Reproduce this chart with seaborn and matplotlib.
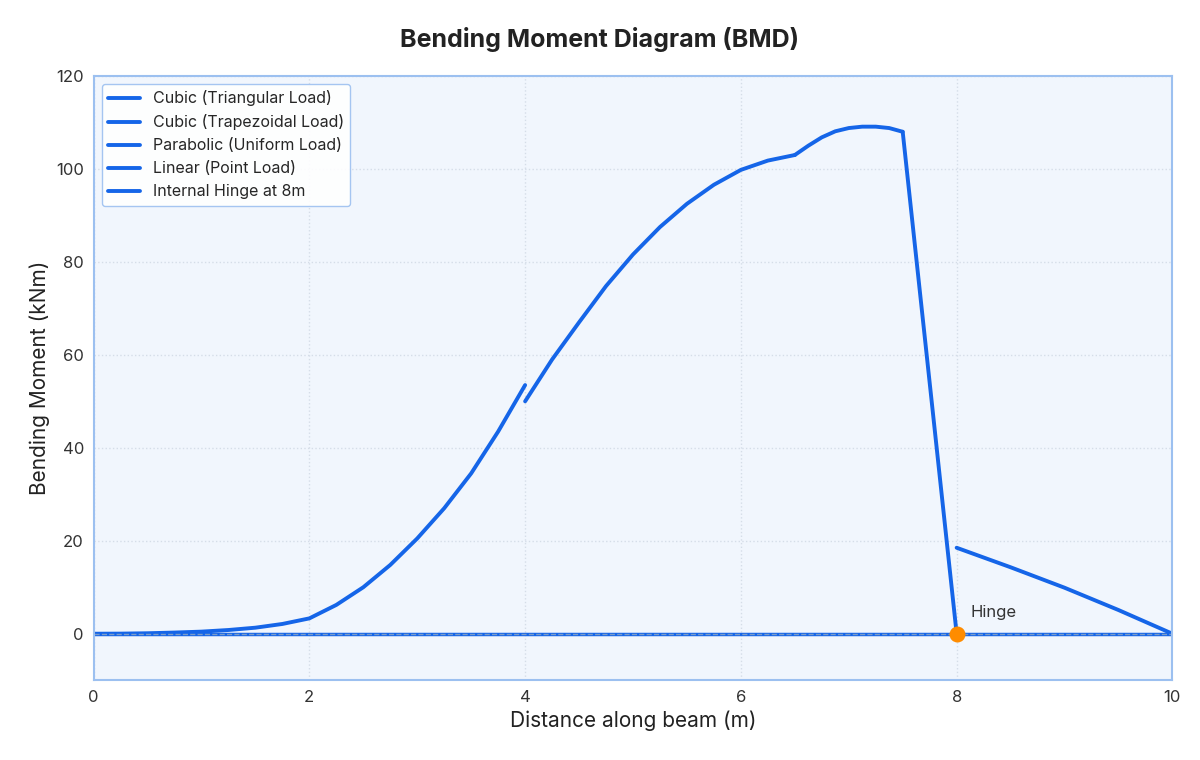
import numpy as np
import matplotlib.pyplot as plt
import pandas as pd
import seaborn as sns

sns.set_style('whitegrid')
plt.rcParams['font.family'] = ['Inter', 'DejaVu Sans']

# segment values
tri_x = [0, 0.25, 0.5, 0.75, 1.0, 1.25, 1.5, 1.75, 2.0, 2.25, 2.5, 2.75, 3.0, 3.25, 3.5, 3.75, 4.0]
tri_y = [0, 0.02, 0.1, 0.25, 0.45, 0.8, 1.3, 2.1, 3.3, 6.2, 10.0, 14.8, 20.5, 27.0, 34.5, 43.5, 53.5]
trap_x = [4.0, 4.25, 4.5, 4.75, 5.0, 5.25, 5.5, 5.75, 6.0, 6.25, 6.5]
trap_y = [50.0, 59.0, 67.0, 74.8, 81.6, 87.5, 92.5, 96.6, 99.8, 101.8, 103.0]
para_x = [6.5, 6.625, 6.75, 6.875, 7.0, 7.125, 7.25, 7.375, 7.5]
para_y = [103.0, 105.0, 106.8, 108.1, 108.8, 109.1, 109.1, 108.8, 108.0]
lin_x = [7.5, 8.0]
lin_y = [108.0, 0.0]
hinge_x = [8.0, 8.5, 9.0, 9.5, 10.0]
hinge_y = [18.5, 14.3, 9.9, 5.1, 0.0]
base_x = [0, 10]
base_y = [0, 0]

blue = '#1565e8'
fig, ax = plt.subplots(figsize=(12, 7.6), dpi=100)
ax.set_facecolor('#f1f6fd')

for xs, ys, lab in [(tri_x, tri_y, 'Cubic (Triangular Load)'),
                    (trap_x, trap_y, 'Cubic (Trapezoidal Load)'),
                    (para_x, para_y, 'Parabolic (Uniform Load)'),
                    (lin_x, lin_y, 'Linear (Point Load)'),
                    (hinge_x, hinge_y, 'Internal Hinge at 8m')]:
    sns.lineplot(x=xs, y=ys, ax=ax, color=blue, lw=2.8, label=lab)
sns.lineplot(x=base_x, y=base_y, ax=ax, color=blue, lw=2.5)
ax.axhline(0, color='#7a9cc9', lw=1, ls='--')

ax.scatter([8], [0], s=110, color='#ff8c00', zorder=5)
ax.annotate('Hinge', (8, 0), xytext=(10, 12), textcoords='offset points', fontsize=12, color='#333')

ax.set_xlim(0, 10)
ax.set_ylim(-10, 120)
ax.grid(True, ls=':', color='#d5dde8', lw=1)
for s in ax.spines.values():
    s.set_color('#9cc0f0')
    s.set_linewidth(1.5)
ax.tick_params(labelsize=12, colors='#333')
ax.set_xlabel('Distance along beam (m)', fontsize=15, color='#222')
ax.set_ylabel('Bending Moment (kNm)', fontsize=15, color='#222')
fig.suptitle('Bending Moment Diagram (BMD)', fontsize=18, fontweight='bold', y=0.965, color='#222')
leg = ax.legend(loc='upper left', fontsize=11.5, frameon=True, framealpha=0.9)
leg.get_frame().set_edgecolor('#9cc0f0')

fig.subplots_adjust(left=0.078, right=0.977, top=0.9, bottom=0.105)
fig.savefig('out.png')
